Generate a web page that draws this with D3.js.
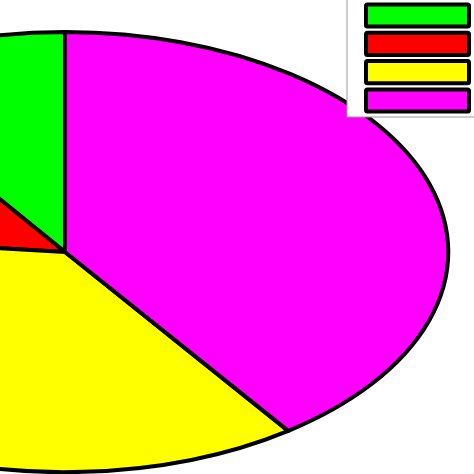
<!DOCTYPE html>
<html>
<head>
<meta charset="utf-8">
<script src="https://cdn.jsdelivr.net/npm/d3@7"></script>
<style>
html,body{margin:0;padding:0;background:#fff;overflow:hidden;}
svg{display:block;}
</style>
</head>
<body>
<svg id="chart" width="474" height="474"></svg>
<script>
const categories = ["A", "B", "C", "D"];
const values = [9.8, 13.6, 36.5, 40.1];
const colors = ["#00ff00", "#ff0000", "#ffff00", "#ff00ff"];

const svg = d3.select("#chart");
const cx = 65, cy = 252, rx = 383, ry = 220;

const pie = d3.pie().sort(null).value(d => d).startAngle(0).endAngle(-2 * Math.PI);
const arcs = pie(values);
const arc = d3.arc().innerRadius(0).outerRadius(1);

const g = svg.append("g").attr("transform", `translate(${cx},${cy}) scale(${rx},${ry})`);
g.selectAll("path").data(arcs).join("path")
  .attr("d", arc)
  .attr("fill", (d, i) => colors[i])
  .attr("stroke", "#000")
  .attr("stroke-width", 4)
  .attr("stroke-linejoin", "round")
  .attr("vector-effect", "non-scaling-stroke");

// legend
const lg = svg.append("g");
lg.append("rect")
  .attr("x", 347).attr("y", -2).attr("width", 140).attr("height", 119)
  .attr("fill", "#fff").attr("stroke", "#999").attr("stroke-width", 1);

const ly = d3.scaleBand().domain(categories).range([3, 113]).paddingInner(0.22).paddingOuter(0.05);
lg.selectAll("rect.sw").data(categories).join("rect")
  .attr("class", "sw")
  .attr("x", 366).attr("y", d => ly(d))
  .attr("width", 103).attr("height", ly.bandwidth())
  .attr("rx", 1.5)
  .attr("fill", (d, i) => colors[i])
  .attr("stroke", "#000").attr("stroke-width", 4);
</script>
</body>
</html>
